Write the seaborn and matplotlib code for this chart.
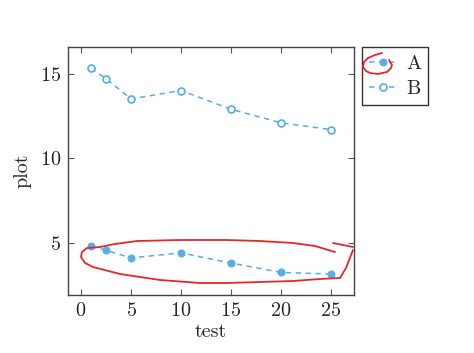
import pandas as pd
import seaborn as sns
import matplotlib.pyplot as plt
from matplotlib.lines import Line2D

# Data
x_vals = [1, 2.5, 5, 10, 15, 20, 25]
a_vals = [4.85, 4.6, 4.15, 4.45, 3.85, 3.3, 3.2]
b_vals = [15.3, 14.7, 13.5, 14.0, 12.9, 12.1, 11.7]
x_ticks = [0, 5, 10, 15, 20, 25]
y_ticks = [5, 10, 15]

df = pd.DataFrame({'test': x_vals * 2,
                   'plot': a_vals + b_vals,
                   'series': ['A'] * len(x_vals) + ['B'] * len(x_vals)})

sns.set_theme(style="ticks")
plt.rcParams['font.family'] = 'serif'
plt.rcParams['font.serif'] = ['cmr10', 'DejaVu Serif']
plt.rcParams['axes.formatter.use_mathtext'] = True
plt.rcParams['mathtext.fontset'] = 'cm'

color = '#56aee3'
fs = 14.5
fig = plt.figure(figsize=(4.74, 3.53), dpi=100)
ax = fig.add_axes([0.1435, 0.1643, 0.6033, 0.7026])

sns.lineplot(data=df[df['series'] == 'A'], x='test', y='plot', ax=ax,
             color=color, linestyle=(0, (3.5, 3)), linewidth=1.1,
             marker='o', markersize=5, markerfacecolor=color,
             markeredgecolor=color, label='A')
sns.lineplot(data=df[df['series'] == 'B'], x='test', y='plot', ax=ax,
             color=color, linestyle=(0, (3.5, 3)), linewidth=1.1,
             marker='o', markersize=5, markerfacecolor='white',
             markeredgewidth=1.2, markeredgecolor=color, label='B')

ax.set_xlim(-1.3, 27.3)
ax.set_ylim(1.97, 16.56)
ax.set_xticks(x_ticks)
ax.set_yticks(y_ticks)
ax.tick_params(direction='in', top=True, right=True, length=4.5,
               width=0.8, color='#555555', labelsize=fs, pad=5)
for s in ax.spines.values():
    s.set_color('#444444')
    s.set_linewidth(1)
ax.set_xlabel('test', fontsize=fs, labelpad=2)
ax.set_ylabel('plot', fontsize=fs, labelpad=6)

leg = ax.legend(loc='upper left', bbox_to_anchor=(1.028, 0.998),
                frameon=True, fancybox=False, fontsize=fs,
                handlelength=1.4, handletextpad=0.45, borderpad=0.35,
                labelspacing=0.35, borderaxespad=0)
leg.get_frame().set_edgecolor('black')
leg.get_frame().set_linewidth(1)

# Red hand-drawn annotation strokes (pixel coords of the figure)
W, H = 474, 353
def stroke(pts):
    xs = [p[0] / W for p in pts]
    ys = [1 - p[1] / H for p in pts]
    fig.add_artist(Line2D(xs, ys, color='#e8262a', linewidth=1.3,
                          transform=fig.transFigure, solid_capstyle='round'))

stroke([(335, 252), (315, 246), (293, 243), (260, 241), (227, 240),
        (180, 240), (137, 241), (115, 244), (100, 247), (87, 248),
        (82, 252), (81, 257), (85, 263), (93, 267), (120, 274),
        (160, 280), (200, 283), (227, 283), (260, 282), (293, 281),
        (320, 279), (340, 278), (346, 268), (353, 250)])
stroke([(333, 243), (353, 247)])
stroke([(382, 53), (375, 55), (368, 58), (364, 62), (363, 67), (366, 71),
        (370, 73), (378, 74), (387, 72), (391, 68), (392, 65), (389, 60)])

fig.savefig('out.png', dpi=100)
